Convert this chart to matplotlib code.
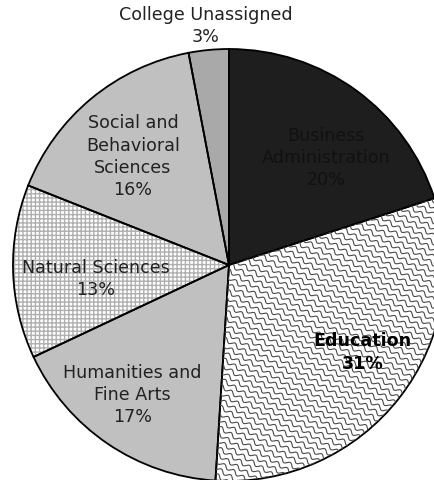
import numpy as np
import matplotlib
matplotlib.use("Agg")
import matplotlib.pyplot as plt

categories = ["Business\nAdministration", "Education", "Humanities and\nFine Arts",
              "Natural Sciences", "Social and\nBehavioral\nSciences", "College Unassigned"]
values = [20, 31, 17, 13, 16, 3]
pct_labels = ["20%", "31%", "17%", "13%", "16%", "3%"]

colors = ["#1e1e1e", "#ffffff", "#c0c0c0", "#ffffff", "#c0c0c0", "#a9a9a9"]
text_colors = ["#111111", "#000000", "#222222", "#222222", "#222222", "#222222"]
weights = ["normal", "bold", "normal", "normal", "normal", "normal"]
# label placement: (radius fraction, angle in degrees)
label_pos = [(0.67, 47.8), (0.74, -33.2), (0.75, -126.5), (0.62, -174.0), (0.67, 131.6), (1.11, 95.5)]

plt.rcParams['font.family'] = ['DejaVu Sans']
fig = plt.figure(figsize=(4.34, 4.80), dpi=100)
ax = fig.add_axes([0, 0, 1, 1])

wedges, _ = ax.pie(values, colors=colors, startangle=90, counterclock=False, radius=1,
                   wedgeprops=dict(linewidth=0, edgecolor="none"))

# Natural sciences grid pattern
wedges[3].set_hatch("++++")
wedges[3].set_edgecolor("#b0b0b0")
wedges[3].set_linewidth(0)

# Education wavy pattern
edu = wedges[1]
px = 1.0 / 216
ang = np.deg2rad(-32)
d = np.array([np.cos(ang), np.sin(ang)])
n = np.array([-d[1], d[0]])
spacing = 6.0 * px
wl = 11.0 * px
amp = 1.8 * px
t = np.linspace(-2, 2, 4000)
for k in np.arange(-1.8, 1.8, spacing):
    off = amp * np.sin(2 * np.pi * t / wl)
    xs = t * d[0] + (k + off) * n[0]
    ys = t * d[1] + (k + off) * n[1]
    ln, = ax.plot(xs, ys, color="#4a4a4a", lw=0.8)
    ln.set_clip_path(edu)

# outlines
ax.pie(values, startangle=90, counterclock=False, radius=1,
       wedgeprops=dict(fill=False, linewidth=1.3, edgecolor="black"))

for cat, pct, (r, a), tc, w in zip(categories, pct_labels, label_pos, text_colors, weights):
    x = r * np.cos(np.deg2rad(a))
    y = r * np.sin(np.deg2rad(a))
    ax.text(x, y, f"{cat}\n{pct}", ha="center", va="center", fontsize=12.6,
            color=tc, fontweight=w, linespacing=1.3)

ax.set_aspect("auto")
ax.set_xlim(-229 / 216, (434 - 229) / 216)
ax.set_ylim(-(480 - 265) / 216, 265 / 216)
ax.axis("off")
fig.savefig("out.png", dpi=100)
